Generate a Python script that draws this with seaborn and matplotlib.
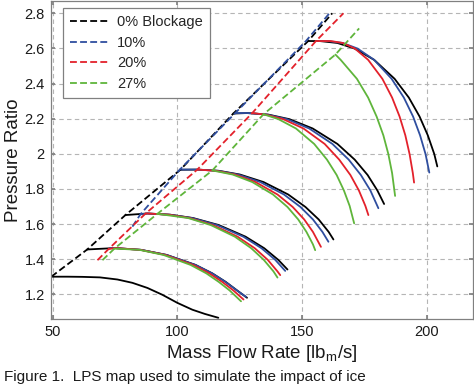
import matplotlib
matplotlib.use("Agg")
import matplotlib.pyplot as plt
from matplotlib.lines import Line2D
import seaborn as sns

# surge lines (dashed), one per blockage level
black_surge_x = [49.5, 63.9, 79.2, 101.2, 122.4, 152.4, 162.0]
black_surge_y = [1.300, 1.455, 1.651, 1.909, 2.229, 2.642, 2.800]
blue_surge_x = [82.0, 85.2, 101.0, 123.2, 151.5, 161.5]
blue_surge_y = [1.585, 1.655, 1.910, 2.232, 2.642, 2.810]
red_surge_x = [68.0, 72.5, 87.3, 108.0, 130.0, 155.5, 166.5]
red_surge_y = [1.394, 1.458, 1.660, 1.910, 2.232, 2.642, 2.800]
green_surge_x = [70.0, 74.8, 92.0, 114.0, 134.5, 163.3, 172.8]
green_surge_y = [1.394, 1.460, 1.658, 1.905, 2.225, 2.565, 2.714]

# speed lines (solid), lowest speed first
black_speed_x = [
    [49.5, 56, 62, 69, 76, 82, 88, 94, 100, 106, 111, 116.4],
    [63.9, 75, 85.4, 95.7, 107.3, 114, 119.4, 123.9, 127.9],
    [79.2, 88, 97.2, 106.3, 116.6, 127.3, 134.8, 140.4, 144.1],
    [101.2, 108, 116.6, 125, 134.5, 144.4, 151.3, 156.6, 160.6, 162.5],
    [122.4, 128, 136.5, 144.9, 154.2, 164.1, 171, 176.2, 180.1, 182.8],
    [152.4, 157, 164.1, 171, 178.8, 187, 192.7, 197, 200.3, 202.9, 204.1],
]
black_speed_y = [
    [1.300, 1.300, 1.299, 1.296, 1.284, 1.265, 1.236, 1.197, 1.151, 1.112, 1.088, 1.066],
    [1.455, 1.463, 1.453, 1.424, 1.367, 1.319, 1.270, 1.222, 1.180],
    [1.651, 1.660, 1.653, 1.634, 1.594, 1.528, 1.462, 1.396, 1.341],
    [1.909, 1.910, 1.903, 1.882, 1.839, 1.768, 1.697, 1.626, 1.555, 1.512],
    [2.229, 2.232, 2.223, 2.197, 2.144, 2.056, 1.967, 1.879, 1.791, 1.714],
    [2.642, 2.642, 2.631, 2.599, 2.535, 2.427, 2.320, 2.212, 2.105, 1.998, 1.928],
]
blue_speed_x = [
    [73, 75, 85.4, 95.6, 107.2, 113.9, 119.3, 123.8, 127.5],
    [85.2, 88, 97, 105.9, 115.9, 126.4, 133.7, 139.2, 143.2],
    [101, 108, 116.2, 124.2, 133.2, 142.7, 149.3, 154.3, 158.1, 160.5],
    [123.2, 128, 136, 143.9, 152.8, 162.1, 168.6, 173.5, 177.3, 180.5],
    [157, 160.2, 166.2, 172.2, 178.8, 185.8, 190.7, 194.4, 197.2, 199.4, 200.9],
]
blue_speed_y = [
    [1.463, 1.463, 1.453, 1.424, 1.367, 1.319, 1.270, 1.222, 1.185],
    [1.655, 1.660, 1.653, 1.634, 1.594, 1.528, 1.462, 1.396, 1.333],
    [1.910, 1.910, 1.903, 1.882, 1.839, 1.768, 1.697, 1.626, 1.555, 1.499],
    [2.232, 2.232, 2.223, 2.197, 2.144, 2.056, 1.967, 1.879, 1.791, 1.690],
    [2.642, 2.642, 2.631, 2.599, 2.535, 2.427, 2.320, 2.212, 2.105, 1.998, 1.893],
]
red_speed_x = [
    [72.5, 75, 85.1, 95.1, 106.3, 112.8, 118, 122.4, 126.5],
    [87.3, 88, 96.5, 104.9, 114.2, 124.1, 131, 136.2, 140.1, 141.2],
    [108, 115.5, 123, 131.3, 140.1, 146.2, 150.8, 154.3, 157.5],
    [130, 135.3, 142.4, 150.5, 159, 164.8, 169.3, 172.7, 175.3, 176.5],
    [155.5, 161.4, 166.3, 171.1, 176.4, 182.1, 186, 189, 191.3, 193, 194.3, 194.8],
]
red_speed_y = [
    [1.458, 1.463, 1.453, 1.424, 1.367, 1.319, 1.270, 1.222, 1.170],
    [1.660, 1.660, 1.653, 1.634, 1.594, 1.528, 1.462, 1.396, 1.330, 1.309],
    [1.910, 1.903, 1.882, 1.839, 1.768, 1.697, 1.626, 1.555, 1.470],
    [2.232, 2.223, 2.197, 2.144, 2.056, 1.967, 1.879, 1.791, 1.703, 1.651],
    [2.642, 2.642, 2.631, 2.599, 2.535, 2.427, 2.320, 2.212, 2.105, 1.998, 1.890, 1.836],
]
green_speed_x = [
    [74.8, 84.8, 94.4, 105.3, 111.6, 116.6, 120.9, 125.5],
    [92, 104.3, 113.4, 123, 129.6, 134.6, 138.5, 140.1],
    [114, 122.1, 130, 138.3, 144.1, 148.4, 151.7, 154.3, 155.2],
    [134.5, 140.5, 147.5, 154.8, 159.9, 163.8, 166.7, 169, 170.8],
    [163.3, 165.4, 171.9, 176.4, 179.8, 182.5, 184.5, 186, 187.2],
]
green_speed_y = [
    [1.460, 1.453, 1.424, 1.367, 1.319, 1.270, 1.222, 1.160],
    [1.658, 1.634, 1.594, 1.528, 1.462, 1.396, 1.330, 1.295],
    [1.905, 1.882, 1.839, 1.768, 1.697, 1.626, 1.555, 1.484, 1.451],
    [2.225, 2.197, 2.144, 2.056, 1.967, 1.879, 1.791, 1.703, 1.604],
    [2.565, 2.535, 2.427, 2.320, 2.212, 2.105, 1.998, 1.890, 1.760],
]

blockage_labels = ["0% Blockage", "10%", "20%", "27%"]
blockage_colors = ["#000000", "#2f4e9f", "#e3212b", "#5fb53b"]

x_ticks = [50, 100, 150, 200]
y_ticks = [1.2, 1.4, 1.6, 1.8, 2.0, 2.2, 2.4, 2.6, 2.8]
y_tick_labels = ["1.2", "1.4", "1.6", "1.8", "2", "2.2", "2.4", "2.6", "2.8"]

sns.set_theme(style="white")
plt.rcParams['font.family'] = ['Liberation Sans', 'DejaVu Sans']
plt.rcParams['mathtext.fontset'] = 'custom'
plt.rcParams['mathtext.rm'] = 'Liberation Sans'
plt.rcParams['mathtext.it'] = 'Liberation Sans:italic'

fig = plt.figure(figsize=(4.74, 3.87), dpi=100)
ax = fig.add_axes([0.1076, 0.1757, 0.8903, 0.8217])

dash = (0, (3.8, 1.8))
speed_x = [black_speed_x, blue_speed_x, red_speed_x, green_speed_x]
speed_y = [black_speed_y, blue_speed_y, red_speed_y, green_speed_y]
surge_x = [black_surge_x, blue_surge_x, red_surge_x, green_surge_x]
surge_y = [black_surge_y, blue_surge_y, red_surge_y, green_surge_y]

for i in range(4):
    for xs, ys in zip(speed_x[i], speed_y[i]):
        sns.lineplot(x=xs, y=ys, sort=False, estimator=None,
                     color=blockage_colors[i], lw=1.3, ax=ax)

for i in range(4):
    sns.lineplot(x=surge_x[i], y=surge_y[i], sort=False, estimator=None,
                 color=blockage_colors[i], lw=1.3, linestyle=dash, ax=ax)

ax.set_xlim(49.4, 218.4)
ax.set_ylim(1.059, 2.870)
ax.set_xticks(x_ticks)
ax.set_xticklabels([str(t) for t in x_ticks])
ax.set_yticks(y_ticks)
ax.set_yticklabels(y_tick_labels)

ax.grid(True, color="#b5b5b5", linestyle=(0, (4, 3)), lw=0.8)
ax.set_axisbelow(True)
for sp in ax.spines.values():
    sp.set_visible(True)
    sp.set_color("#808080")
    sp.set_linewidth(0.9)
ax.tick_params(direction="in", length=3, color="#808080", labelsize=10.5,
               labelcolor="#1a1a1a", pad=4.5, bottom=True, left=True,
               top=True, right=True)

ax.set_xlabel("Mass Flow Rate [lb$_\\mathrm{m}$/s]", fontsize=13.5,
              color="#1a1a1a", labelpad=3)
ax.set_ylabel("Pressure Ratio", fontsize=13.5, color="#1a1a1a", labelpad=1.5)

handles = [Line2D([0], [0], color=c, lw=1.3, linestyle=dash) for c in blockage_colors]
leg = ax.legend(handles, blockage_labels, loc="upper left",
                bbox_to_anchor=(0.028, 0.978), borderaxespad=0, frameon=True,
                fancybox=False, edgecolor="#808080", framealpha=1,
                fontsize=10.5, handlelength=2.7, labelspacing=0.45,
                borderpad=0.5, handletextpad=0.5)
leg.get_frame().set_linewidth(0.9)

# caption, cut off at the bottom of the reference; kept inside the figure here
fig.text(0.008, 0.008, "Figure 1.  LPS map used to simulate the impact of ice",
         fontsize=11, color="#1a1a1a", va="bottom")

fig.savefig("out.png", dpi=100)
